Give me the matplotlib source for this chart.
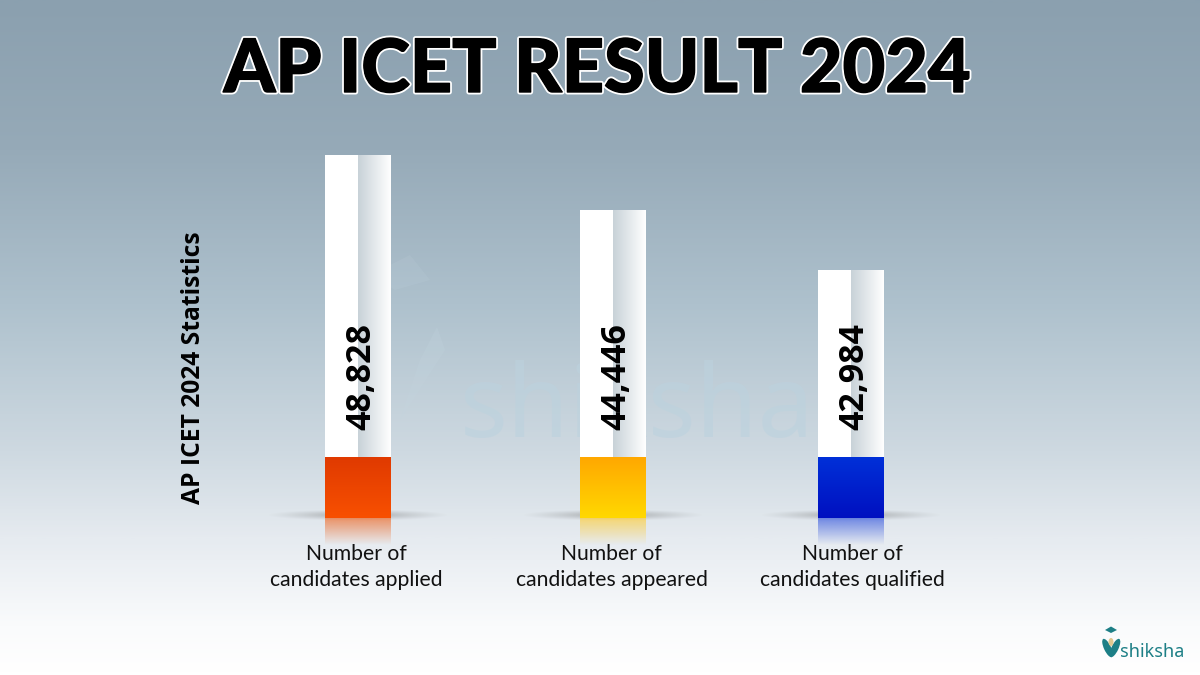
import numpy as np
import matplotlib
matplotlib.use("Agg")
import matplotlib.pyplot as plt
import matplotlib.patheffects as pe
from matplotlib.colors import LinearSegmentedColormap
from matplotlib.patches import Polygon, Ellipse

# ---- data ----
title = "AP ICET RESULT 2024"
y_label = "AP ICET 2024 Statistics"
categories = ["Number of\ncandidates applied", "Number of\ncandidates appeared", "Number of\ncandidates qualified"]
value_labels = ["48,828", "44,446", "42,984"]
# drawn column heights (the infographic's columns are pictorial, not proportional)
column_heights = [363, 308, 248]
block_height = 61
block_top_colors = ["#e03a00", "#ffa800", "#0030d8"]
block_bottom_colors = ["#f85000", "#ffd800", "#0010c0"]
reflection_colors = ["#f07030", "#ffd040", "#4060e0"]

x_centers = [357.5, 612.5, 850.5]
bar_width = 66

fig = plt.figure(figsize=(12, 6.75), dpi=100)
ax = fig.add_axes([0, 0, 1, 1])
ax.set_xlim(0, 1200)
ax.set_ylim(-157, 518)   # y = 0 is the columns' baseline; one unit = one pixel
ax.axis("off")

# background
bg = LinearSegmentedColormap.from_list("bg", [
    (0.0, (139/255, 160/255, 175/255)),
    (0.22, (150/255, 170/255, 184/255)),
    (0.45, (174/255, 193/255, 205/255)),
    (0.67, (206/255, 217/255, 225/255)),
    (0.80, (230/255, 235/255, 240/255)),
    (0.93, (250/255, 251/255, 252/255)),
    (1.0, (1, 1, 1))])
ax.imshow(np.linspace(0, 1, 400)[:, None], cmap=bg, extent=(0, 1200, -157, 518),
          aspect="auto", zorder=0, vmin=0, vmax=1)

# watermark
ax.text(637, 108, "shiksha", fontsize=72, family="Noto Sans", weight="bold",
        color="#bcd2de", alpha=0.6, ha="center", va="center", zorder=1)
ax.add_patch(Polygon([(437, 191), (445, 168), (400, 98), (420, 158)],
                     closed=True, fc="#c4d6e0", alpha=0.22, ec="none", zorder=1))
ax.add_patch(Polygon([(370, 243), (410, 263), (430, 238), (395, 228)],
                     closed=True, fc="#c4d6e0", alpha=0.14, ec="none", zorder=1))

def h_grad(x0, x1, y0, y1, c0, c1, z=3):
    cm = LinearSegmentedColormap.from_list("g", [c0, c1])
    ax.imshow(np.linspace(0, 1, 64)[None, :], cmap=cm, extent=(x0, x1, y0, y1),
              aspect="auto", zorder=z, vmin=0, vmax=1)

def v_grad(x0, x1, y0, y1, c_top, c_bot, z=4):
    cm = LinearSegmentedColormap.from_list("g", [c_top, c_bot])
    ax.imshow(np.linspace(0, 1, 64)[:, None], cmap=cm, extent=(x0, x1, y0, y1),
              aspect="auto", zorder=z, vmin=0, vmax=1)

for x, h, top, bot, ref, val, cat in zip(x_centers, column_heights, block_top_colors,
                                         block_bottom_colors, reflection_colors,
                                         value_labels, categories):
    left, right = x - bar_width / 2, x + bar_width / 2
    # shadow on the floor
    sx = np.linspace(-1, 1, 200)
    sy = np.linspace(-1, 1, 20)
    X, Y = np.meshgrid(sx, sy)
    alpha = np.clip(1 - np.sqrt(X**2 + Y**2), 0, 1) ** 1.2 * 0.5
    rgba = np.zeros(alpha.shape + (4,))
    rgba[..., :3] = 0.4
    rgba[..., 3] = alpha
    ax.imshow(rgba, extent=(x - 92, x + 92, -3, 9), aspect="auto", zorder=2)
    # column
    ax.bar(x, h, bar_width, color="white", zorder=3)
    h_grad(x, right, block_height, h, "#c8d2d8", "#ffffff")
    # colour block
    v_grad(left, right, 0, block_height, top, bot)
    # reflection
    cmap_a = np.zeros((64, 1, 4))
    cmap_a[..., :3] = matplotlib.colors.to_rgb(ref)
    cmap_a[..., 3] = np.linspace(0.7, 0, 64)[:, None]
    ax.imshow(cmap_a, extent=(left, right, -27, 0), aspect="auto", zorder=3)
    # value
    ax.text(x + 4, 141, val, rotation=90, ha="center", va="center", fontsize=24.5,
            family="Open Sans", weight="bold", color="black", zorder=6)
    # category
    ax.text(x - 1 if x < 800 else x + 2, -49, cat, ha="center", va="center", fontsize=15.2,
            family="Lato", color="#111111", linespacing=1.42, zorder=6)

ax.text(193, 150, y_label, rotation=90, ha="center", va="center", fontsize=17.7,
        family="Open Sans", weight="bold", color="black", zorder=6)

# title
ax.text(597, 447.5, title, ha="center", va="center", fontsize=53, family="Lato", weight=900,
        color="black", zorder=7,
        path_effects=[pe.withStroke(linewidth=3.6, foreground="white"),
                      pe.withStroke(linewidth=1.0, foreground="black")])

# logo
teal = "#1d7f86"
ax.text(1152, -134, "shiksha", ha="center", va="center", fontsize=13, family="Noto Sans",
        color=teal, weight="medium", zorder=7)
ax.add_patch(Ellipse((1107.5, -130), 7, 20, angle=25, fc=teal, ec="none", zorder=7))
ax.add_patch(Ellipse((1115, -130), 7, 20, angle=-25, fc=teal, ec="none", zorder=7))
ax.add_patch(Ellipse((1111, -124), 5, 8, fc="#e0c890", ec="none", zorder=8))
ax.add_patch(Polygon([(1105, -112), (1111, -108.5), (1117, -112), (1111, -115)], closed=True,
                     fc=teal, ec="none", zorder=7))
ax.set_xlim(0, 1200)
ax.set_ylim(-157, 518)
fig.savefig("out.png", dpi=100)
